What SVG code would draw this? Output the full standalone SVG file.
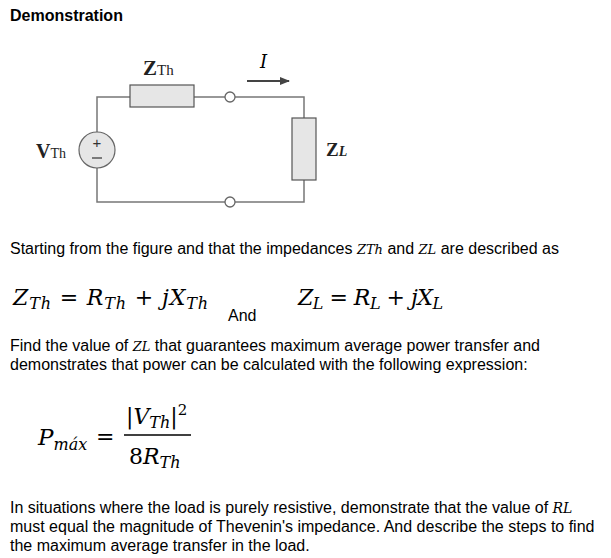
<svg xmlns="http://www.w3.org/2000/svg" width="611" height="558" viewBox="0 0 611 558">
<style>
.t{font-family:"Liberation Sans",Arial,sans-serif;font-size:16px;fill:#000}
.m{font-family:"DejaVu Serif","Liberation Serif",serif;font-style:italic;fill:#000}
.c{font-family:"Liberation Serif","Times New Roman",serif;font-weight:bold;fill:#222}
.w{fill:none;stroke:#777;stroke-width:1.5}
.box{fill:#e6e6e6;stroke:#555;stroke-width:1.2}
</style>
<defs><marker id="ah" viewBox="0 0 10 10" refX="9" refY="5" markerWidth="5" markerHeight="5" orient="auto"><path d="M0,1 L10,5 L0,9 z" fill="#444"/></marker></defs>
<rect width="611" height="558" fill="#fff"/>
<text class="t" x="10" y="21" font-weight="bold">Demonstration</text>
<g id="connectors">
<path class="w" d="M97,132 V97 H130 M194,97 H225 M235,97 H304 V118 M304,180 V202 H235 M225,202 H97 V168"/>
<line x1="247" y1="81" x2="289" y2="81" stroke="#444" stroke-width="2" marker-end="url(#ah)"/>
</g>
<g id="zth"><rect class="box" x="130" y="85" width="64" height="22"/><text class="c" x="143" y="75" font-size="21">Z<tspan font-size="15" font-weight="normal">Th</tspan></text></g>
<g id="zl"><rect class="box" x="292" y="118" width="24" height="62"/><text class="c" x="326" y="156" font-size="19">Z<tspan font-size="14" font-style="italic">L</tspan></text></g>
<g id="vth"><circle cx="97" cy="150" r="18" fill="#e6e6e6" stroke="#666" stroke-width="1.2"/><text x="97" y="148" text-anchor="middle" font-family="Liberation Sans,sans-serif" font-size="15" fill="#333">+</text><line x1="92" y1="158" x2="102" y2="158" stroke="#333" stroke-width="1.2"/><text class="c" x="36" y="158" font-size="20">V<tspan font-size="14" font-weight="normal">Th</tspan></text></g>
<g id="terminals"><circle cx="230" cy="97" r="5" fill="#fff" stroke="#666" stroke-width="1.3"/><circle cx="230" cy="202" r="5" fill="#fff" stroke="#666" stroke-width="1.3"/></g>
<text class="m" x="260" y="68" font-size="18" font-family="Liberation Serif,serif">I</text>
<text class="t" x="10" y="254">Starting from the figure and that the impedances <tspan class="m" font-size="13">ZTh</tspan> and <tspan class="m" font-size="13">ZL</tspan> are described as</text>
<text class="m" x="13" y="305" font-size="22" textLength="195" lengthAdjust="spacing">Z<tspan font-size="16" dy="4">Th</tspan><tspan dy="-4" font-style="normal"> = </tspan>R<tspan font-size="16" dy="4">Th</tspan><tspan dy="-4" font-style="normal"> + </tspan>jX<tspan font-size="16" dy="4">Th</tspan></text>
<text class="t" x="228" y="321">And</text>
<text class="m" x="298" y="305" font-size="22" textLength="145" lengthAdjust="spacing">Z<tspan font-size="16" dy="4">L</tspan><tspan dy="-4" font-style="normal"> = </tspan>R<tspan font-size="16" dy="4">L</tspan><tspan dy="-4" font-style="normal"> + </tspan>jX<tspan font-size="16" dy="4">L</tspan></text>
<text class="t" x="10" y="351">Find the value of <tspan class="m" font-size="13">ZL</tspan> that guarantees maximum average power transfer and</text>
<text class="t" x="10" y="370">demonstrates that power can be calculated with the following expression:</text>
<text class="m" x="38" y="445" font-size="23">P<tspan font-size="16" dy="5">máx</tspan></text>
<text x="96" y="444" font-family="DejaVu Serif,serif" font-size="22">=</text>
<text class="m" x="126" y="424" font-size="22"><tspan font-style="normal">|</tspan>V<tspan font-size="16" dy="4">Th</tspan><tspan font-style="normal" dy="-4">|</tspan><tspan font-style="normal" font-size="15" dy="-9">2</tspan></text>
<line x1="124" y1="435" x2="191" y2="435" stroke="#000" stroke-width="1.3"/>
<text class="m" x="129" y="464" font-size="22"><tspan font-style="normal">8</tspan>R<tspan font-size="16" dy="4">Th</tspan></text>
<text class="t" x="10" y="513">In situations where the load is purely resistive, demonstrate that the value of <tspan class="m" font-size="14">RL</tspan></text>
<text class="t" x="10" y="532">must equal the magnitude of Thevenin's impedance. And describe the steps to find</text>
<text class="t" x="10" y="551">the maximum average transfer in the load.</text>
</svg>
